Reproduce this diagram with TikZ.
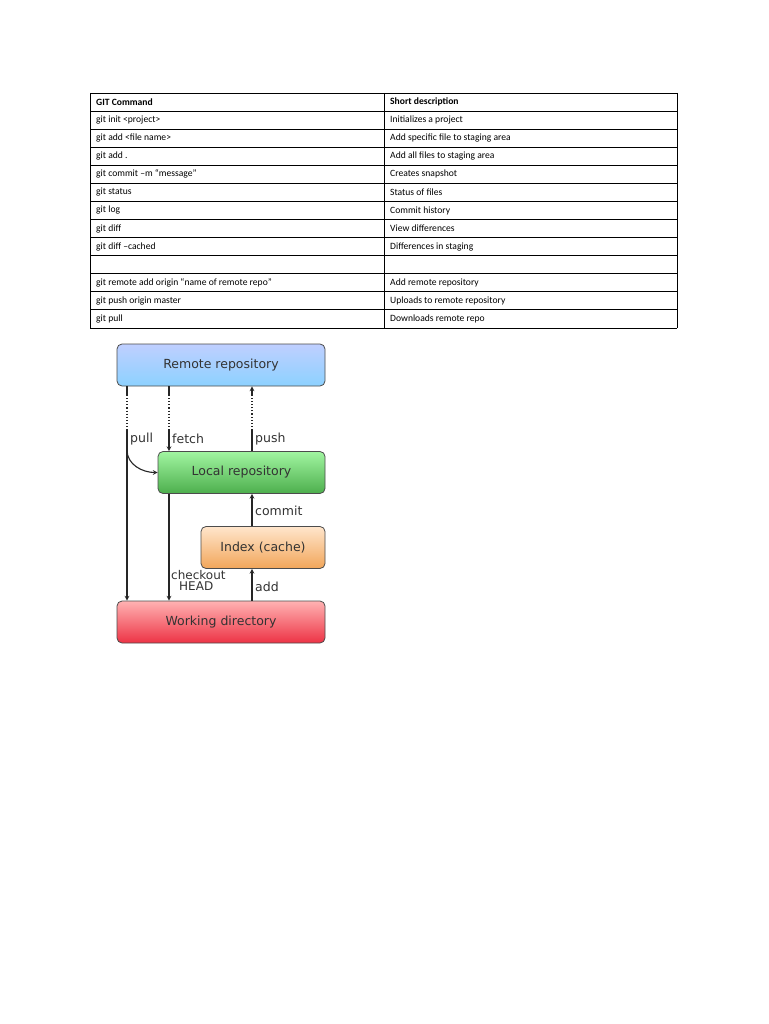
\documentclass[tikz,border=0pt]{standalone}
\usepackage{fontspec}
\setmainfont{Carlito}
\newfontfamily\djsans{DejaVu Sans}
\begin{document}
\begin{tikzpicture}[x=1pt,y=-1pt,
  cell/.style={anchor=west,inner sep=0pt,font=\fontsize{9.6}{11}\selectfont},
  box/.style={draw=black!70,line width=0.8pt,rounded corners=5pt,minimum height=42pt,font=\djsans\fontsize{12.5}{14}\selectfont,text=black!80},
  arr/.style={->,>=stealth,line width=1.1pt,black!85},
  lbl/.style={font=\djsans\fontsize{12.5}{13}\selectfont,text=black!80,inner sep=1pt}]
\useasboundingbox (0,0) rectangle (768,1024);
\fill[white] (0,0) rectangle (768,1024);
% table
\foreach \y in {93,111,129,147,165,183,201,219,237,255,273,291,309,328} \draw[line width=0.6pt] (90,\y) -- (677,\y);
\draw[line width=0.6pt] (90,93) -- (90,328) (384,93) -- (384,328) (677,93) -- (677,328);
\node[cell,font=\bfseries\fontsize{9.6}{11}\selectfont] (h1) at (96,102) {GIT Command};
\node[cell,font=\bfseries\fontsize{9.6}{11}\selectfont] (h2) at (390,102) {Short description};
\foreach \i/\a/\b in {1/git init <project>/Initializes a project,
 2/git add <file name>/Add specific file to staging area,
 3/git add ./Add all files to staging area,
 4/{git commit –m “message”}/Creates snapshot,
 5/git status/Status of files,
 6/git log/Commit history,
 7/git diff/View differences,
 8/git diff –cached/Differences in staging,
 10/git remote add origin “name of remote repo”/Add remote repository,
 11/git push origin master/Uploads to remote repository,
 12/git pull/Downloads remote repo}{
 \node[cell] (c\i) at (96,102+18.08*\i) {\a};
 \node[cell] (d\i) at (390,102+18.08*\i) {\b};
}
% diagram
\node[box,minimum width=208pt,top color=cyan!25!blue!25!white,bottom color=cyan!60!blue!45!white] (remote) at (221,365) {Remote repository};
\node[box,minimum width=167pt,top color=green!45!black!10!white!70!green,bottom color=green!55!black!70!white] (local) at (241.5,472.5) {Local repository};
\node[box,minimum width=124pt,top color=orange!20!white,bottom color=orange!70!brown!70!white] (index) at (263,547.5) {Index (cache)};
\node[box,minimum width=208pt,top color=red!30!white,bottom color=red!65!purple!80!white] (work) at (221,622) {Working directory};
% pull
\coordinate (p1) at (127,395); \coordinate (p2) at (127,430); \coordinate (pb) at (127,450);
\draw[line width=1.1pt,black!85] (remote.south -| p1) -- (p1);
\draw[line width=1.1pt,black!85,dotted] (p1) -- (p2);
\draw[arr] (p2) -- (work.north -| p2);
\draw[arr] (pb) to[out=-90,in=180] (local.west);
\node[lbl,anchor=west] (lpull) at (129,439) {pull};
% fetch
\coordinate (f1) at (169,395); \coordinate (f2) at (169,430);
\draw[line width=1.1pt,black!85] (remote.south -| f1) -- (f1);
\draw[line width=1.1pt,black!85,dotted] (f1) -- (f2);
\draw[arr] (f2) -- (local.north -| f2);
\node[lbl,anchor=west] (lfetch) at (171,439) {fetch};
% push
\coordinate (u1) at (252,395); \coordinate (u2) at (252,430);
\draw[line width=1.1pt,black!85] (local.north -| u2) -- (u2);
\draw[line width=1.1pt,black!85,dotted] (u2) -- (u1);
\draw[arr] (u1) -- (remote.south -| u1);
\node[lbl,anchor=west] (lpush) at (254,439) {push};
% commit, add, checkout
\draw[arr] (index.north -| u1) -- (local.south -| u1);
\node[lbl,anchor=west] (lcommit) at (254,511) {commit};
\draw[arr] (work.north -| u1) -- (index.south -| u1);
\node[lbl,anchor=west] (ladd) at (254,587) {add};
\draw[arr] (local.south -| f1) -- (work.north -| f1);
\node[lbl,anchor=north west,align=left,font=\djsans\fontsize{12}{12}\selectfont] (lco) at (170,569) {checkout\\[-1pt]\hspace*{8pt}HEAD};
\end{tikzpicture}
\end{document}
